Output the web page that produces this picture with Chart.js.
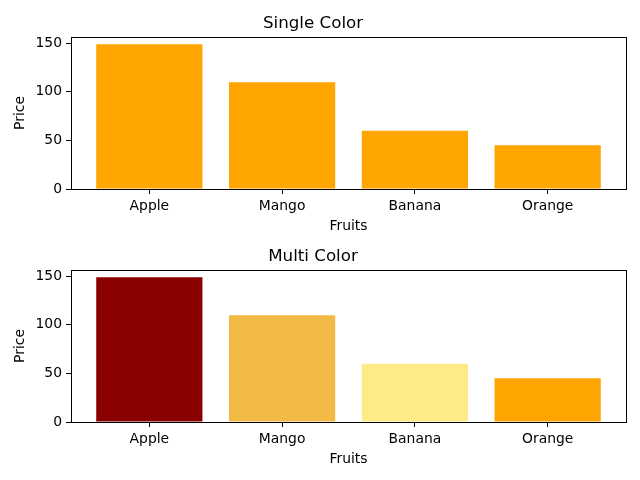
<!DOCTYPE html>
<html>
<head>
<meta charset="utf-8">
<script src="https://cdn.jsdelivr.net/npm/chart.js@4"></script>
<style>
  html, body { margin: 0; padding: 0; background: #fff; }
  #wrap { position: relative; width: 640px; height: 480px; }
  canvas { position: absolute; left: 0; }
  #singleChart { top: 0; }
  #multiChart { top: 233px; }
</style>
</head>
<body>
<div id="wrap">
  <canvas id="singleChart" width="640" height="240"></canvas>
  <canvas id="multiChart" width="640" height="240"></canvas>
</div>
<script>
// Data
const fruits = ["Apple", "Mango", "Banana", "Orange"]
const prices = [149, 110, 60, 45]
const priceTicks = [0, 50, 100, 150]
const singleColor = "#FFA500"
const multiColors = ["#8B0000", "#F4BA46", "#FEEB86", "#FFA500"]

const FONT = "'DejaVu Sans', sans-serif"

// Draw the four spines like matplotlib does
const boxPlugin = {
  id: "box",
  afterDatasetsDraw(chart) {
    const { ctx, chartArea } = chart
    ctx.save()
    ctx.strokeStyle = "#000"
    ctx.lineWidth = 1
    ctx.strokeRect(
      Math.round(chartArea.left) + 0.5,
      Math.round(chartArea.top) + 0.5,
      Math.round(chartArea.right - chartArea.left),
      Math.round(chartArea.bottom - chartArea.top)
    )
    ctx.restore()
  },
}

function createBarChart(canvasId, title, colors) {
  const ctx = document.getElementById(canvasId).getContext("2d")
  const points = fruits.map((name, i) => ({ x: i, y: prices[i] }))

  return new Chart(ctx, {
    type: "bar",
    data: {
      datasets: [
        {
          data: points,
          backgroundColor: colors,
          borderWidth: 0,
          inflateAmount: 0,
          barPercentage: 0.8,
          categoryPercentage: 1,
        },
      ],
    },
    options: {
      responsive: false,
      animation: false,
      layout: { padding: { left: 0, right: 14, top: 0, bottom: 0 } },
      plugins: {
        legend: { display: false },
        tooltip: { enabled: false },
        title: {
          display: true,
          text: title,
          color: "#000",
          font: { family: FONT, size: 16.7, weight: "normal" },
          padding: { top: 14, bottom: 3 },
        },
      },
      scales: {
        x: {
          type: "linear",
          min: -0.59,
          max: 3.59,
          offset: false,
          afterBuildTicks: (scale) => {
            scale.ticks = fruits.map((f, i) => ({ value: i }))
          },
          afterFit: (scale) => {
            scale.height = 51
          },
          ticks: {
            color: "#000",
            font: { family: FONT, size: 13.9 },
            padding: 4,
            maxRotation: 0,
            autoSkip: false,
            callback: (value) => fruits[value],
          },
          grid: {
            display: true,
            offset: false,
            drawOnChartArea: false,
            drawTicks: true,
            tickLength: 5,
            color: "#000",
          },
          border: { display: false },
          title: {
            display: true,
            text: "Fruits",
            color: "#000",
            font: { family: FONT, size: 13.9 },
            padding: { top: 0, bottom: 5 },
          },
        },
        y: {
          min: 0,
          max: 149 * 1.05,
          afterBuildTicks: (scale) => {
            scale.ticks = priceTicks.map((v) => ({ value: v }))
          },
          afterFit: (scale) => {
            scale.width = 71
          },
          ticks: {
            color: "#000",
            font: { family: FONT, size: 13.9 },
            padding: 4,
          },
          grid: {
            display: true,
            drawOnChartArea: false,
            drawTicks: true,
            tickLength: 5,
            color: "#000",
          },
          border: { display: false },
          title: {
            display: true,
            text: "Price",
            color: "#000",
            font: { family: FONT, size: 13.9 },
            padding: { top: 12, bottom: 0 },
          },
        },
      },
    },
    plugins: [boxPlugin],
  })
}

createBarChart("singleChart", "Single Color", singleColor)
createBarChart("multiChart", "Multi Color", multiColors)
</script>
</body>
</html>
